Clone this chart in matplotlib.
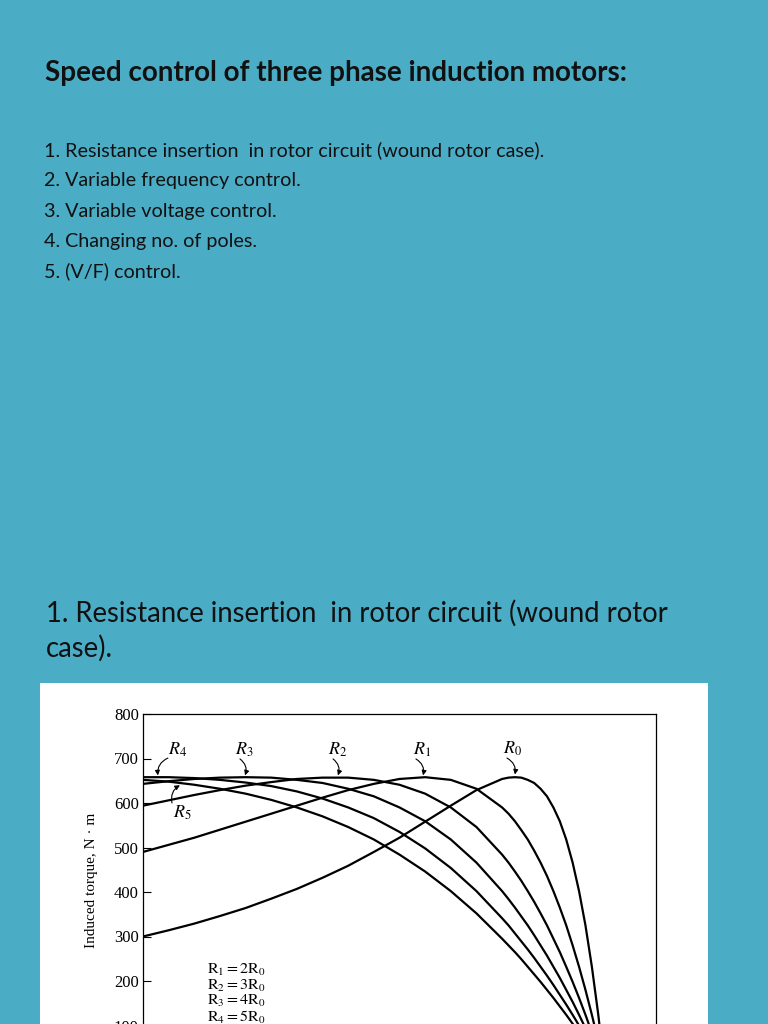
import matplotlib.pyplot as plt
from matplotlib.patches import Rectangle

plt.rcParams['mathtext.fontset'] = 'stix'

# slide text
title = "Speed control of three phase induction motors:"
items = [
    "1. Resistance insertion  in rotor circuit (wound rotor case).",
    "2. Variable frequency control.",
    "3. Variable voltage control.",
    "4. Changing no. of poles.",
    "5. (V/F) control.",
]
heading = ["1. Resistance insertion  in rotor circuit (wound rotor", "case)."]

# torque-speed curves (speed r/min, torque N.m)
speed = [0, 100, 200, 300, 400, 500, 600, 700, 800, 900, 1000, 1100, 1200, 1300, 1400,
         1425, 1450, 1475, 1500, 1525, 1550, 1575, 1600, 1625, 1650, 1675, 1700, 1725,
         1750, 1775, 1800]
torque_r0 = [300, 314, 329, 346, 364, 385, 407, 432, 459, 490, 522, 558, 594, 629, 654,
             657, 658, 657, 652, 645, 632, 615, 590, 559, 518, 466, 402, 325, 232, 124, 0]
torque_r1 = [490, 506, 522, 540, 558, 576, 594, 612, 629, 643, 654, 658, 652, 632, 590,
             576, 559, 539, 518, 493, 466, 436, 402, 365, 325, 280, 232, 180, 124, 64, 0]
torque_r2 = [594, 606, 618, 629, 639, 647, 654, 657, 657, 652, 641, 621, 590, 546, 484,
             466, 446, 425, 402, 378, 352, 325, 295, 265, 232, 198, 162, 124, 84, 43, 0]
torque_r3 = [643, 649, 654, 657, 658, 657, 652, 645, 632, 615, 590, 559, 518, 466, 402,
             384, 365, 345, 325, 303, 280, 257, 232, 207, 180, 153, 124, 94, 64, 32, 0]
torque_r4 = [658, 658, 656, 652, 646, 638, 626, 610, 590, 566, 535, 498, 454, 402, 341,
             325, 307, 289, 271, 252, 232, 212, 191, 169, 147, 124, 100, 76, 52, 26, 0]
torque_r5 = [652, 648, 641, 632, 621, 607, 590, 570, 546, 518, 484, 446, 402, 352, 295,
             280, 265, 249, 232, 215, 198, 180, 162, 143, 124, 104, 84, 64, 43, 22, 0]
curves = [torque_r0, torque_r1, torque_r2, torque_r3, torque_r4, torque_r5]

# curve labels: (text, label pos, arrow start, arrow end)
labels = [
    (r'$R_4$', (136, 719), (97, 701), (58, 662)),
    (r'$R_3$', (394, 719), (378, 699), (398, 662)),
    (r'$R_2$', (760, 719), (741, 699), (760, 662)),
    (r'$R_1$', (1088, 719), (1064, 699), (1092, 662)),
    (r'$R_0$', (1439, 721), (1419, 701), (1450, 664)),
]
r5_label = (r'$R_5$', (155, 578), (113, 600), (144, 640))
ratio_lines = [r'$\mathrm{R_1 = 2R_0}$', r'$\mathrm{R_2 = 3R_0}$', r'$\mathrm{R_3 = 4R_0}$',
               r'$\mathrm{R_4 = 5R_0}$', r'$\mathrm{R_5 = 6R_0}$']

W, H = 768, 1024


def fx(x):
    return x / W


def fy(y):
    return 1 - y / H


fig = plt.figure(figsize=(7.68, 10.24), dpi=100)
fig.patch.set_facecolor('#4BACC6')
txt = '#111111'

fig.text(fx(45), fy(81), title, fontsize=20, fontweight='bold', family='Lato',
         va='baseline', color=txt)
for i, item in enumerate(items):
    fig.text(fx(44), fy(156 + 30.3 * i), item, fontsize=14.2, family='Lato',
             va='baseline', color=txt)
fig.text(fx(46), fy(621.5), heading[0], fontsize=19.8, family='Lato', va='baseline', color=txt)
fig.text(fx(46), fy(657), heading[1], fontsize=19.8, family='Lato', va='baseline', color=txt)

# white picture panel
fig.add_artist(Rectangle((fx(40), 0), fx(708) - fx(40), fy(683), transform=fig.transFigure,
                         facecolor='white', edgecolor='none', zorder=-1))

ax = fig.add_axes([fx(143), fy(1070), (656 - 143) / W, (1070 - 714) / H])
for t in curves:
    ax.plot(speed, t, color='black', lw=1.6)
ax.set_xlim(0, 2000)
ax.set_ylim(0, 800)
ax.set_yticks(range(0, 900, 100))
ax.tick_params(axis='y', direction='in', length=6, width=0.8, pad=3, labelsize=12)
ax.tick_params(axis='x', direction='in', length=6, width=0.8)
for lab in ax.get_yticklabels():
    lab.set_family('Liberation Serif')
for sp in ax.spines.values():
    sp.set_linewidth(0.9)

fig.text(fx(91), fy(880), 'Induced torque, N \u00b7 m', rotation=90, ha='center', va='center',
         fontsize=11, family='Liberation Serif', color='black')

arrow = dict(arrowstyle='-|>', color='black', lw=0.8, mutation_scale=7,
             shrinkA=0, shrinkB=0)
for name, pos, start, end in labels:
    ax.text(pos[0], pos[1], name, fontsize=13, ha='center', va='center')
    rad = 0.35 if name == r'$R_4$' else -0.35
    ax.annotate('', xy=end, xytext=start,
                arrowprops=dict(arrow, connectionstyle='arc3,rad=%s' % rad))
name, pos, start, end = r5_label
ax.text(pos[0], pos[1], name, fontsize=13, ha='center', va='center')
ax.annotate('', xy=end, xytext=start, arrowprops=dict(arrow, connectionstyle='arc3,rad=-0.35'))

# ratio block as one multi-line text
fig.text(fx(207), fy(962), '\n'.join(ratio_lines), fontsize=11.5, va='top', ha='left',
         linespacing=0.95, color='black')

fig.savefig('out.png', dpi=100, facecolor=fig.get_facecolor())
